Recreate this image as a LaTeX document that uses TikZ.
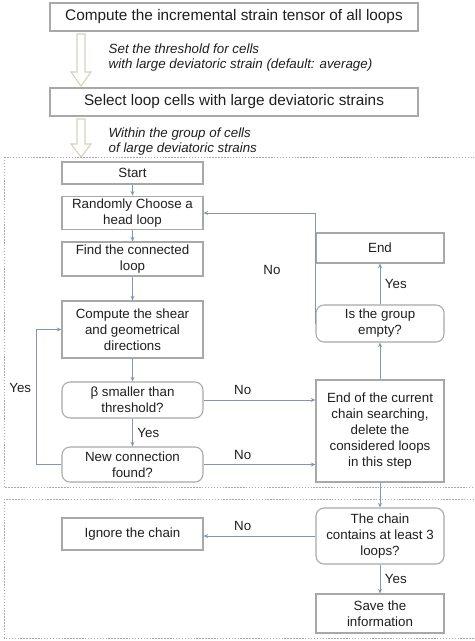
\documentclass[tikz,border=0pt]{standalone}
\usepackage{fontspec}
\setmainfont{Liberation Sans}
\usetikzlibrary{arrows.meta}
\definecolor{boxgray}{HTML}{A8A8A8}
\definecolor{linkblue}{HTML}{8097B0}
\definecolor{hollowtan}{HTML}{D9D1BA}
\definecolor{txtgray}{HTML}{1E1E1E}

\begin{document}
\begin{tikzpicture}[x=0.75pt, y=-0.75pt, >={Stealth[length=3.5pt,width=3pt]},
  every node/.style={font=\fontsize{10}{12}\selectfont, text=txtgray},
  box/.style={draw=boxgray, line width=0.8pt, align=center, inner sep=2pt},
  leftbox/.style={box, minimum width=105.75pt},
  rightbox/.style={box, minimum width=96pt},
  roundbox/.style={rounded corners=6pt},
  topbox/.style={box, minimum width=276pt, minimum height=21pt, font=\fontsize{11.5}{13}\selectfont},
  link/.style={draw=linkblue, line width=0.7pt, ->},
  note/.style={font=\fontsize{10}{11.5}\selectfont\itshape, align=left, anchor=west},
  hollowarrow/.style={draw=hollowtan, line width=0.8pt, fill=white},
  group/.style={draw=boxgray, line width=0.6pt, dash pattern=on 1.1pt off 1.1pt}]
  \useasboundingbox (0,0) rectangle (474,641);
  \clip (0,0) rectangle (474,641);

  % Preparation steps
  \node[topbox] (strain) at (234,17) {Compute the incremental strain tensor of all loops};
  \node[topbox] (select) at (234,102) {Select loop cells with large deviatoric strains};

  % hollow arrows with their notes
  \draw[hollowarrow] (77,34) -- (85,34) -- (85,72) -- (91,72) -- (81,86) -- (71,72) -- (77,72) -- cycle;
  \draw[hollowarrow] (77,119) -- (85,119) -- (85,144) -- (91,144) -- (81,157) -- (71,144) -- (77,144) -- cycle;
  \node[note] (setnote) at (104,57.5) {Set the threshold for cells\\with large deviatoric strain (default: average)};
  \node[note] (groupnote) at (104,141.5) {Within the group of cells\\of large deviatoric strains};

  % dashed groups
  \draw[group] (4,157) rectangle (480,487);
  \draw[group] (4,499) rectangle (480,638);

  % Chain search, left column
  \node[leftbox, minimum height=16.5pt] (start) at (132.5,173) {Start};
  \node[leftbox, minimum height=24pt] (head) at (132.5,213) {Randomly Choose a\\head loop};
  \node[leftbox, minimum height=25.5pt] (find) at (132.5,259) {Find the connected\\loop};
  \node[leftbox, minimum height=42.75pt] (shear) at (132.5,329.5) {Compute the shear\\and geometrical\\directions};
  \node[leftbox, roundbox, minimum height=27pt] (beta) at (132.5,400) {β smaller than\\threshold?};
  \node[leftbox, roundbox, minimum height=26.25pt] (newconn) at (132.5,464.5) {New connection\\found?};
  \node[leftbox, minimum height=24pt] (ignore) at (132.5,534) {Ignore the chain};

  % right column
  \node[rightbox, minimum height=22.5pt] (end) at (380,248) {End};
  \node[rightbox, roundbox, minimum height=27.75pt] (empty) at (380,323.5) {Is the group\\empty?};
  \node[rightbox, minimum height=76.5pt] (stop) at (380,431) {End of the current\\chain searching,\\delete the\\considered loops\\in this step};
  \node[rightbox, roundbox, minimum height=42pt] (contains) at (380,536) {The chain\\contains at least 3\\loops?};
  \node[rightbox, minimum height=29.25pt] (save) at (380,613.5) {Save the\\information};

  \coordinate (loopx) at (36,0);

  % Connectors
  \draw[link] (start) -- (head);
  \draw[link] (head) -- (find);
  \draw[link] (find) -- (shear);
  \draw[link] (shear) -- (beta);
  \draw[link] (beta) -- node[right] {Yes} (newconn);
  \draw[link] (newconn.west) -- (newconn.west -| loopx) -- node[left, pos=0.57] {Yes} (shear.west -| loopx) -- (shear.west);
  \draw[link] (beta.east) -- node[above, pos=0.35] {No} (beta.east -| stop.west);
  \draw[link] (newconn.east) -- node[above, pos=0.35] {No} (newconn.east -| stop.west);
  \draw[link] (stop) -- (empty);
  \draw[link] (empty) -- node[right] {Yes} (end);
  \draw[link] (empty.west) -- (empty.west |- head.east) -- (head.east);
  \node (nohead) at (272,270) {No};
  \draw[link] (stop) -- (contains);
  \draw[link] (contains.west) -- node[above, pos=0.65] {No} (contains.west -| ignore.east);
  \draw[link] (contains) -- node[right] {Yes} (save);
\end{tikzpicture}
\end{document}
